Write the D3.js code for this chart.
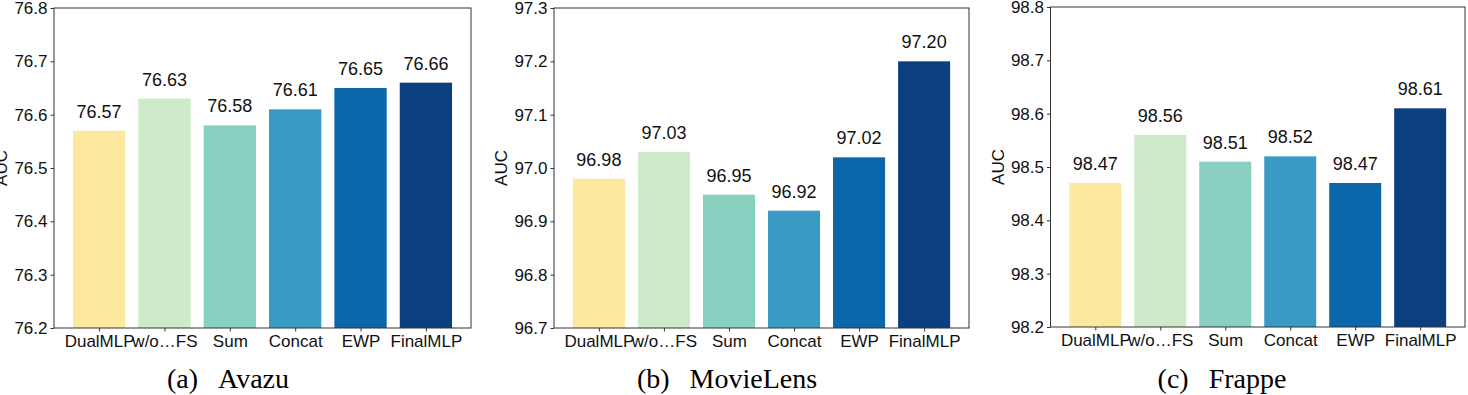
<!DOCTYPE html>
<html>
<head>
<meta charset="utf-8">
<script src="https://cdn.jsdelivr.net/npm/d3@7"></script>
<style>
  body { margin: 0; background: #fff; }
  svg { display: block; }
</style>
</head>
<body>
<svg id="chart" width="1468" height="395"></svg>
<script>
const categories = ["DualMLP", "w/o\u2026FS", "Sum", "Concat", "EWP", "FinalMLP"];
const barColors = ["#fce89e", "#cdebc8", "#89d0c1", "#3a9ac6", "#0b66aa", "#0b3f80"];

const avazuAUC = [76.57, 76.63, 76.58, 76.61, 76.65, 76.66];
const movielensAUC = [96.98, 97.03, 96.95, 96.92, 97.02, 97.20];
const frappeAUC = [98.47, 98.56, 98.51, 98.52, 98.47, 98.61];

const avazuTicks = [76.2, 76.3, 76.4, 76.5, 76.6, 76.7, 76.8];
const movielensTicks = [96.7, 96.8, 96.9, 97.0, 97.1, 97.2, 97.3];
const frappeTicks = [98.2, 98.3, 98.4, 98.5, 98.6, 98.7, 98.8];

const captionTags = ["(a)", "(b)", "(c)"];
const captionNames = ["Avazu", "MovieLens", "Frappe"];

// panel placement in the page
const panels = [
  { values: avazuAUC, ticks: avazuTicks, left: 54, right: 471, top: 8, bottom: 328, capX: 228 },
  { values: movielensAUC, ticks: movielensTicks, left: 554, right: 969, top: 8, bottom: 328, capX: 727 },
  { values: frappeAUC, ticks: frappeTicks, left: 1050.5, right: 1465, top: 7, bottom: 327, capX: 1222 },
];

const svg = d3.select("#chart");
const sans = "'Liberation Sans', Arial, sans-serif";
const axisColor = "#333";

panels.forEach((p, k) => {
  const x = d3.scaleLinear().domain([-0.69, 5.69]).range([p.left, p.right]);
  const y = d3.scaleLinear()
    .domain([p.ticks[0], p.ticks[p.ticks.length - 1]])
    .range([p.bottom, p.top]);

  const g = svg.append("g").attr("class", "panel");

  g.selectAll(".bar")
    .data(p.values)
    .enter()
    .append("rect")
    .attr("class", "bar")
    .attr("x", (d, i) => x(i - 0.4))
    .attr("width", (d, i) => x(i + 0.4) - x(i - 0.4))
    .attr("y", (d) => y(d))
    .attr("height", (d) => p.bottom - y(d))
    .attr("fill", (d, i) => barColors[i]);

  g.selectAll(".val")
    .data(p.values)
    .enter()
    .append("text")
    .attr("class", "val")
    .attr("x", (d, i) => x(i))
    .attr("y", (d) => y(d) - 13)
    .attr("text-anchor", "middle")
    .attr("font-family", sans)
    .attr("font-size", "18px")
    .attr("fill", "#111")
    .text((d) => d3.format(".2f")(d));

  const yAxis = d3.axisLeft(y)
    .tickValues(p.ticks)
    .tickFormat(d3.format(".1f"))
    .tickSize(3.5)
    .tickPadding(3);

  const xAxis = d3.axisBottom(x)
    .tickValues(d3.range(categories.length))
    .tickFormat((i) => categories[i])
    .tickSize(3.5)
    .tickPadding(3.5);

  g.append("g")
    .attr("transform", `translate(${p.left},0)`)
    .call(yAxis);

  g.append("g")
    .attr("transform", `translate(0,${p.bottom})`)
    .call(xAxis);

  g.selectAll(".domain").remove();
  g.selectAll(".tick line").attr("stroke", axisColor).attr("stroke-width", 1);
  g.selectAll(".tick text")
    .attr("font-family", sans)
    .attr("font-size", "17px")
    .attr("fill", "#111");

  g.append("rect")
    .attr("x", p.left)
    .attr("y", p.top)
    .attr("width", p.right - p.left)
    .attr("height", p.bottom - p.top)
    .attr("fill", "none")
    .attr("stroke", axisColor)
    .attr("stroke-width", 1);

  g.append("text")
    .attr("transform", `translate(${p.left - 47},${(p.top + p.bottom) / 2}) rotate(-90)`)
    .attr("text-anchor", "middle")
    .attr("font-family", sans)
    .attr("font-size", "17px")
    .attr("fill", "#111")
    .text("AUC");

  const cap = g.append("text")
    .attr("x", p.capX)
    .attr("y", 388)
    .attr("text-anchor", "middle")
    .attr("font-family", "'Liberation Serif', 'Times New Roman', serif")
    .attr("font-size", "28px")
    .attr("fill", "#000");
  cap.append("tspan").text(captionTags[k]);
  cap.append("tspan").attr("dx", 20).text(captionNames[k]);
});
</script>
</body>
</html>
